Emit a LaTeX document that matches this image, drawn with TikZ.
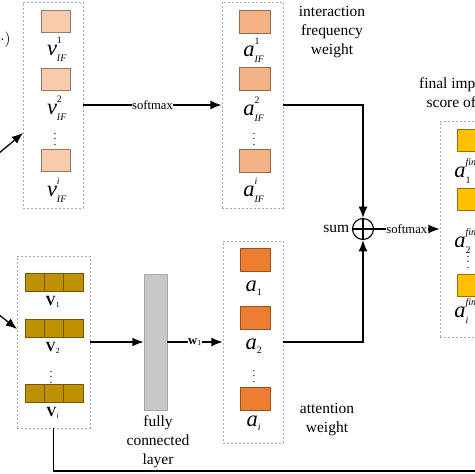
\documentclass[tikz,border=0pt]{standalone}
\usepackage{amsmath}
\usepackage{fontspec}
\setmainfont{Liberation Serif}
\usetikzlibrary{arrows.meta,positioning}
\DeclareMathSizes{16}{16}{7}{5}
\DeclareMathSizes{10}{10}{5.5}{4}
\DeclareMathSizes{9}{9}{5.5}{4}

\definecolor{dashgray}{HTML}{A8A8A8}
\definecolor{peachlight}{HTML}{F8CBAD}
\definecolor{peach}{HTML}{F4B183}
\definecolor{orangecell}{HTML}{ED7D31}
\definecolor{goldcell}{HTML}{FFC000}
\definecolor{ochre}{HTML}{BF9000}
\definecolor{fcgray}{HTML}{C8C8C8}

\newcommand{\hsup}[1]{\text{\raisebox{2.5pt}{#1}}}

\begin{document}
\begin{tikzpicture}[x=0.25mm,y=-0.25mm,
    group/.style={draw=dashgray,dash pattern=on 0.5mm off 0.5mm,line width=0.5pt,inner sep=0pt},
    cellbox/.style={line width=0.6pt,inner sep=0pt,outer sep=0pt},
    vifcell/.style={cellbox,draw=peachlight!60!black,fill=peachlight,minimum width=7.25mm,minimum height=5.5mm},
    aifcell/.style={cellbox,draw=peach!60!black,fill=peach,minimum width=7.75mm,minimum height=5.75mm},
    acell/.style={cellbox,draw=orangecell!65!black,fill=orangecell,minimum width=7.5mm,minimum height=5.75mm},
    fincell/.style={cellbox,draw=goldcell!60!black,fill=goldcell,minimum width=7.75mm,minimum height=5.5mm},
    vcell/.style={cellbox,draw=ochre!60!black,fill=ochre,minimum width=4.83mm,minimum height=4.5mm},
    lab/.style={font=\fontsize{16pt}{16pt}\selectfont,inner sep=0pt},
    vlab/.style={font=\fontsize{10pt}{10pt}\selectfont,inner sep=0pt},
    dots/.style={font=\fontsize{8pt}{8pt}\selectfont,inner sep=0pt},
    txt/.style={font=\fontsize{11pt}{13.5pt}\selectfont,align=center,inner sep=0pt},
    smlab/.style={font=\fontsize{9pt}{9pt}\selectfont,fill=white,inner sep=0.4pt},
    arr/.style={line width=0.9pt,-{Latex[length=2.8mm,width=2.2mm]}}]
    \useasboundingbox (0,0) rectangle (474,474);

    % interaction frequency part
    \node[group,minimum width=15mm,minimum height=51.5mm] (vifbox) at (53,105) {};
    \node[vifcell] (vif1) at (55.5,21) {};
    \node[vifcell] (vif2) at (55.5,79.5) {};
    \node[vifcell] (vifi) at (55.5,160.5) {};
    \node[lab] (vif1lab) at (57,49) {$\textit{v}^{\hsup{1}}_{\textit{IF}}$};
    \node[lab] (vif2lab) at (57,108) {$\textit{v}^{\hsup{2}}_{\textit{IF}}$};
    \node[dots] (vifdots) at (55,135) {$\vdots$};
    \node[lab] (vifilab) at (57,190) {$\textit{v}^{\hsup{\textit{i}}}_{\textit{IF}}$};

    \node[group,minimum width=15.25mm,minimum height=51.5mm] (aifbox) at (252.5,105) {};
    \node[aifcell] (aif1) at (254.5,21.5) {};
    \node[aifcell] (aif2) at (254.5,79) {};
    \node[aifcell] (aifi) at (254.5,160.5) {};
    \node[lab] (aif1lab) at (254,50) {$\textit{a}^{\hsup{1}}_{\textit{IF}}$};
    \node[lab] (aif2lab) at (254,109) {$\textit{a}^{\hsup{2}}_{\textit{IF}}$};
    \node[dots] (aifdots) at (254,135) {$\vdots$};
    \node[lab] (aifilab) at (254,190) {$\textit{a}^{\hsup{\textit{i}}}_{\textit{IF}}$};
    \node[txt] (iflab) at (332,32) {interaction\\frequency\\weight};

    % feature vectors and attention part
    \node[group,minimum width=18.25mm,minimum height=43mm] (vbox) at (53.5,342) {};
    \node[vcell] (v1a) at (34.67,282) {};
    \node[vcell,right=0pt of v1a] (v1b) {};
    \node[vcell,right=0pt of v1b] (v1c) {};
    \node[vcell] (v2a) at (34.67,328) {};
    \node[vcell,right=0pt of v2a] (v2b) {};
    \node[vcell,right=0pt of v2b] (v2c) {};
    \node[vcell] (via) at (34.67,393) {};
    \node[vcell,right=0pt of via] (vib) {};
    \node[vcell,right=0pt of vib] (vic) {};
    \node[vlab] (v1lab) at (53,302) {$\textbf{V}_{\text{1}}$};
    \node[vlab] (v2lab) at (53,348) {$\textbf{V}_{\text{2}}$};
    \node[dots] (vdots) at (51,373) {$\vdots$};
    \node[vlab] (vilab) at (53,413) {$\textbf{V}_{\textit{i}}$};

    \node[draw=dashgray,fill=fcgray,line width=0.6pt,minimum width=5.75mm,minimum height=34mm,inner sep=0pt] (fc) at (155.5,342) {};
    \node[txt] (fclab) at (158,442) {fully\\connected\\layer};

    \node[group,minimum width=15mm,minimum height=50.5mm] (abox) at (253,342) {};
    \node[acell] (a1) at (255,259.5) {};
    \node[acell] (a2) at (255,317.5) {};
    \node[acell] (ai) at (255,398.5) {};
    \node[lab] (a1lab) at (254,288) {$\textit{a}_{\text{1}}$};
    \node[lab] (a2lab) at (254,346) {$\textit{a}_{\text{2}}$};
    \node[dots] (adots) at (254,372) {$\vdots$};
    \node[lab] (ailab) at (254,423) {$\textit{a}_{\textit{i}}$};
    \node[txt] (attlab) at (327,420) {attention\\weight};

    % sum and final score
    \node[draw,circle,line width=0.8pt,minimum size=5.25mm,inner sep=0pt] (sum) at (363,229) {};
    \draw[line width=0.8pt] (sum.north) -- (sum.south);
    \draw[line width=0.8pt] (sum.west) -- (sum.east);
    \node[txt,anchor=east,inner sep=0.6mm] (sumlab) at (sum.west) {sum};

    \node[group,minimum width=15.25mm,minimum height=54mm] (finbox) at (470.5,229) {};
    \node[fincell] (fin1) at (472.5,140) {};
    \node[fincell] (fin2) at (472.5,199) {};
    \node[fincell] (fini) at (472.5,285) {};
    \node[lab,anchor=west] (fin1lab) at (454,171) {$\textit{a}^{\hsup{\textit{final}}}_{\text{1}}$};
    \node[lab,anchor=west] (fin2lab) at (454,241) {$\textit{a}^{\hsup{\textit{final}}}_{\text{2}}$};
    \node[dots] (findots) at (468,258) {$\vdots$};
    \node[lab,anchor=west] (finilab) at (454,311) {$\textit{a}^{\hsup{\textit{final}}}_{\textit{i}}$};
    \node[txt] (finlab) at (470,92.5) {final importance\\score of items};

    % text cut at the left edge
    \node[txt,anchor=east] (fcut) at (11,40) {$(\cdot)$};

    % connectors
    \coordinate (inA) at (-2,154);
    \coordinate (tipA) at (23,133);
    \coordinate (inB) at (-2,314);
    \coordinate (tipB) at (17,329);
    \coordinate (outB) at (480,471);
    \draw[arr] (inA) -- (tipA);
    \draw[arr] (inB) -- (tipB);
    \draw[arr] (vifbox.east) -- node[smlab] {softmax} (aifbox.west);
    \draw[arr] (aifbox.east) -| (sum.north);
    \draw[arr] (vbox.east) -- (fc.west);
    \draw[arr] (fc.east) -- node[smlab] {$\textbf{w}_{\text{1}}$} (abox.west);
    \draw[arr] (abox.east) -| (sum.south);
    \draw[arr] (sum.east) -- node[smlab] {softmax} (finbox.west);
    \draw[line width=1.2pt] (vbox.south) |- (outB);
\end{tikzpicture}
\end{document}
